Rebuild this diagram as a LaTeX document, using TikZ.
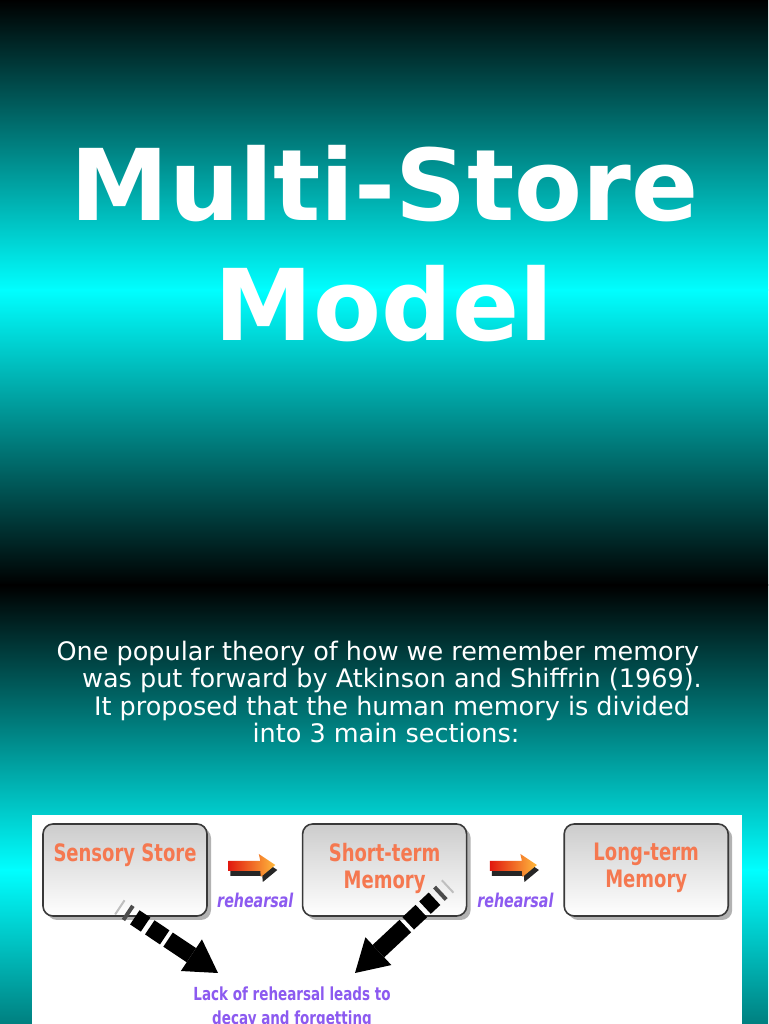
\documentclass[tikz,border=0pt]{standalone}
\usepackage{fontspec}
\usetikzlibrary{arrows.meta, positioning, calc, shadows}
\newfontfamily\slidefont{DejaVu Sans}
\newfontfamily\boxfont[FakeStretch=0.75]{DejaVu Sans}
\definecolor{memOrange}{RGB}{245,120,80}
\definecolor{memPurple}{RGB}{140,90,240}
\definecolor{arrowRed}{RGB}{225,25,15}
\definecolor{arrowGold}{RGB}{255,185,60}
\colorlet{boxEdge}{gray!45!black}
\tikzset{
    titletext/.style={text=white, font=\slidefont\bfseries\fontsize{99}{119}\selectfont, inner sep=0pt},
    introtext/.style={text=white, font=\slidefont\fontsize{25.5}{27.5}\selectfont, align=center, inner sep=0pt},
    storebox/.style={draw=boxEdge, line width=1.6pt, rounded corners=10pt,
        minimum width=164pt, minimum height=92pt, top color=gray!40, bottom color=white,
        drop shadow={shadow xshift=4pt, shadow yshift=-4pt, fill=gray, opacity=0.6}},
    storetext/.style={text=memOrange, font=\boxfont\bfseries\fontsize{24}{27}\selectfont, align=center, inner sep=0pt},
    rehearsaltext/.style={text=memPurple, font=\boxfont\bfseries\itshape\fontsize{19}{22}\selectfont, inner sep=0pt},
    stripe/.style={line width=17pt},
    blockarrow/.pic={
        % extruded side of the arrow
        \fill[gray!30!black, xshift=2pt, yshift=-5pt] (-23.5,5) -- (8.5,5) -- (7,12) -- (23.5,1) -- (9,-11) -- (8.5,-5) -- (-23.5,-5) -- cycle;
        \shade[left color=arrowRed, right color=arrowGold] (-23.5,5) -- (8.5,5) -- (7,12) -- (23.5,1) -- (9,-11) -- (8.5,-5) -- (-23.5,-5) -- cycle;
    }
}

\begin{document}
\begin{tikzpicture}[x=1pt, y=1pt]
    % Fix the page to the slide size
    \path[use as bounding box, clip] (0,0) rectangle (768,1024);

    % Draw the background bands
    \shade[top color=black, bottom color=cyan] (0,733.5) rectangle (768,1024);
    \shade[top color=cyan, bottom color=black] (0,438.5) rectangle (768,734);
    \shade[top color=black, bottom color=cyan] (0,153.5) rectangle (768,439);
    \shade[top color=cyan, bottom color=cyan!50!black] (0,0) rectangle (768,154);

    % Title and introduction
    \node[titletext, anchor=base] (title) at (384.5,803) {Multi-Store};
    \node[titletext, anchor=base] (subtitle) at (384,683) {Model};
    \node[introtext, anchor=north] (intro) at (392,383.5)
        {One popular theory of how we remember memory\hspace*{28pt}\\
         was put forward by Atkinson and Shiffrin (1969).\\
         It proposed that the human memory is divided\\
         into 3 main sections:\hspace*{12pt}};

    % Draw the white panel for the model
    \fill[white] (32,0) rectangle (742,209);

    % Draw the three stores
    \node[storebox] (sensory) at (125,154) {};
    \node[storebox, right=94pt of sensory] (short) {};
    \node[storebox, right=96pt of short] (long) {};
    \node[storetext, below=20pt of sensory.north] (sensorytxt) {Sensory Store};
    \node[storetext, below=20pt of short.north] (shorttxt) {Short-term\\Memory};
    \node[storetext, below=20pt of long.north] (longtxt) {Long-term\\Memory};

    % Rehearsal arrows between the stores
    \pic at ($(sensory.east)!0.5!(short.west)+(-3,4)$) {blockarrow};
    \pic at ($(short.east)!0.5!(long.west)+(-2,4)$) {blockarrow};
    \node[rehearsaltext, anchor=base] (reh1) at ($(sensory.east)!0.5!(short.west)+(0.5,-38)$) {rehearsal};
    \node[rehearsaltext, anchor=base] (reh2) at ($(short.east)!0.5!(long.west)+(0,-38)$) {rehearsal};

    % Decay and forgetting
    \node[rehearsaltext, font=\boxfont\bfseries\fontsize{18}{24}\selectfont, align=center, anchor=north] (forget) at (292,37)
        {Lack of rehearsal leads to\\decay and forgetting};
    \coordinate (fade1) at ($(sensory.south)+(-6,10)$);
    \coordinate (fade2) at ($(short.south east)+(-19,31)$);
    \coordinate (tip1) at ($(forget.north)+(-74,14)$);
    \coordinate (tip2) at ($(forget.north)+(63,14)$);
    \foreach \from/\to in {fade1/tip1, fade2/tip2} {
        \foreach \p/\q/\col in {0/2/gray!50, 9/13/gray!60!black, 19/32/black, 37/55/black}
            \draw[stripe, draw=\col] ($(\from)!\p pt!(\to)$) -- ($(\from)!\q pt!(\to)$);
        \draw[stripe, -{Triangle[width=38pt, length=32pt, line width=0pt]}] ($(\from)!59pt!(\to)$) -- (\to);
    }
\end{tikzpicture}
\end{document}
